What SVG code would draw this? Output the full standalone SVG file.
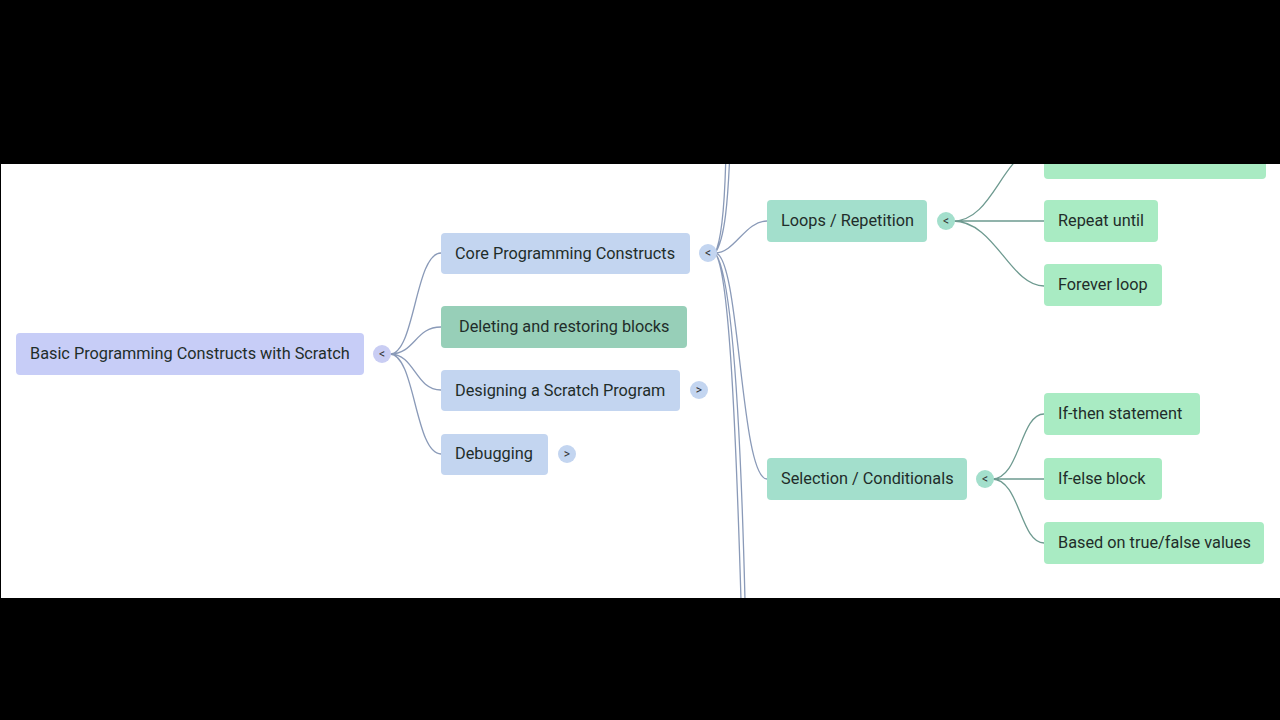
<svg xmlns="http://www.w3.org/2000/svg" width="1280" height="720" viewBox="0 0 1280 720">
<style>
text{font-family:Roboto,"Liberation Sans",sans-serif;font-size:16.3px;fill:#1f2d2a}
.t{font-size:12px;text-anchor:middle;fill:#333}
.c{fill:none;stroke-width:1.3}
.b{stroke:#8a9ab8}.g{stroke:#6e9a90}
</style>
<defs><clipPath id="cp"><rect x="0" y="164" width="1280" height="434"/></clipPath></defs>
<rect width="1280" height="720" fill="#000"/>
<rect x="1" y="164" width="1279" height="434" fill="#fff"/>
<g id="connectors" clip-path="url(#cp)">
<path class="c b" d="M390 354C415 354 415 253 441 253M390 354C415 354 415 327 441 327M390 354C415 354 415 390 441 390M390 354C415 354 415 454 441 454"/>
<path class="c b" d="M715 253C725 240 728 200 730 150M715 253C722 240 725 200 726 150M715 253C735 253 745 221 767 221M715 253C740 253 740 479 767 479M715 253C730 270 740 400 745 600M715 253C728 268 735 400 741 600"/>
<path class="c g" d="M953 221C990 221 1000 164 1030 150M953 221H1044M953 221C995 221 1010 286 1044 286M992 479C1020 479 1020 414 1044 414M992 479H1044M992 479C1020 479 1020 543 1044 543"/>
</g>
<g id="root"><rect x="16" y="333" width="348" height="42" rx="4" fill="#c7cdf7"/><text x="30" y="359">Basic Programming Constructs with Scratch</text><circle cx="382" cy="354" r="9" fill="#c9cdf3"/><text class="t" x="382" y="358">&lt;</text></g>
<g id="core"><rect x="441" y="233" width="249" height="41" rx="4" fill="#c3d5f0"/><text x="455" y="259">Core Programming Constructs</text><circle cx="708" cy="253" r="9" fill="#c3d5f0"/><text class="t" x="708" y="257">&lt;</text></g>
<g id="deleting"><rect x="441" y="306" width="246" height="42" rx="4" fill="#97cfb8"/><text x="459" y="332">Deleting and restoring blocks</text></g>
<g id="designing"><rect x="441" y="370" width="239" height="41" rx="4" fill="#c3d5f0"/><text x="455" y="396">Designing a Scratch Program</text><circle cx="699" cy="390" r="9" fill="#c3d5f0"/><text class="t" x="699" y="394">&gt;</text></g>
<g id="debugging"><rect x="441" y="434" width="107" height="41" rx="4" fill="#c3d5f0"/><text x="455" y="459">Debugging</text><circle cx="567" cy="454" r="9" fill="#c3d5f0"/><text class="t" x="567" y="458">&gt;</text></g>
<g id="loops"><rect x="767" y="200" width="160" height="42" rx="4" fill="#a3dfcc"/><text x="781" y="226">Loops / Repetition</text><circle cx="946" cy="221" r="9" fill="#a3dfcc"/><text class="t" x="946" y="225">&lt;</text></g>
<g id="selection"><rect x="767" y="458" width="200" height="42" rx="4" fill="#a3dfcc"/><text x="781" y="484">Selection / Conditionals</text><circle cx="985" cy="479" r="9" fill="#a3dfcc"/><text class="t" x="985" y="483">&lt;</text></g>
<g id="partial" clip-path="url(#cp)"><rect x="1044" y="150" width="222" height="29" rx="4" fill="#a9ebc3"/></g>
<g id="repeat"><rect x="1044" y="200" width="114" height="42" rx="4" fill="#a9ebc3"/><text x="1058" y="226">Repeat until</text></g>
<g id="forever"><rect x="1044" y="264" width="118" height="42" rx="4" fill="#a9ebc3"/><text x="1058" y="290">Forever loop</text></g>
<g id="ifthen"><rect x="1044" y="393" width="156" height="42" rx="4" fill="#a9ebc3"/><text x="1058" y="419">If-then statement</text></g>
<g id="ifelse"><rect x="1044" y="458" width="118" height="42" rx="4" fill="#a9ebc3"/><text x="1058" y="484">If-else block</text></g>
<g id="based"><rect x="1044" y="522" width="220" height="42" rx="4" fill="#a9ebc3"/><text x="1058" y="548">Based on true/false values</text></g>
</svg>
